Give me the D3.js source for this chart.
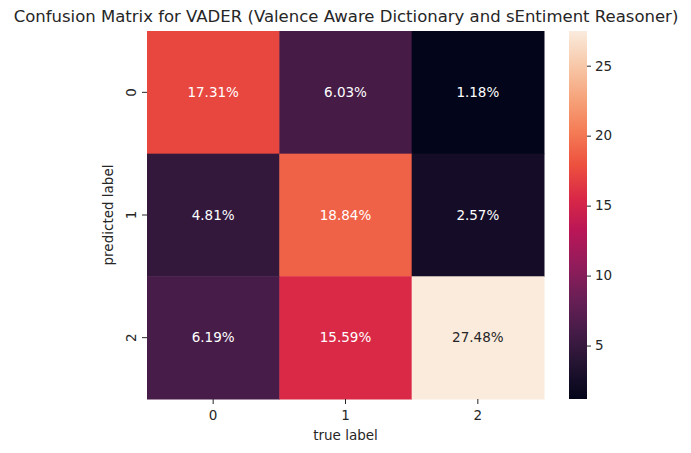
<!DOCTYPE html>
<html>
<head>
<meta charset="utf-8">
<script src="https://cdn.jsdelivr.net/npm/d3@7"></script>
<style>
  body { margin: 0; background: #fff; }
  text { font-family: "DejaVu Sans", sans-serif; fill: #262626; }
</style>
</head>
<body>
<svg id="chart" width="691" height="453"></svg>
<script>
var trueLabels = ["0", "1", "2"];
var predLabels = ["0", "1", "2"];
// rows = predicted label, columns = true label (percent)
var row0 = [17.31, 6.03, 1.18];
var row1 = [4.81, 18.84, 2.57];
var row2 = [6.19, 15.59, 27.48];
var cbTicks = [5, 10, 15, 20, 25];
var rocket = ["#03051a", "#221331", "#451c47", "#691f55", "#921c5b", "#b91657",
              "#d92847", "#ed513e", "#f47c56", "#f6a47b", "#f7c9aa", "#faebdd"];

var rows = [row0, row1, row2];
var cells = [];
rows.forEach(function (r, i) {
  r.forEach(function (v, j) { cells.push({ row: predLabels[i], col: trueLabels[j], v: v }); });
});
var vmin = d3.min(cells, function (d) { return d.v; });
var vmax = d3.max(cells, function (d) { return d.v; });

var color = d3.scaleLinear()
  .domain(rocket.map(function (c, i) { return vmin + (vmax - vmin) * i / (rocket.length - 1); }))
  .range(rocket);

var svg = d3.select("#chart");
var mLeft = 147, mRight = 544, mTop = 31, mBottom = 399;
var fs = "13.5px";

var x = d3.scaleBand().domain(trueLabels).range([mLeft, mRight]);
var y = d3.scaleBand().domain(predLabels).range([mTop, mBottom]);

svg.selectAll("rect.cell").data(cells).enter().append("rect")
  .attr("x", function (d) { return x(d.col); })
  .attr("y", function (d) { return y(d.row); })
  .attr("width", x.bandwidth() + 0.5)
  .attr("height", y.bandwidth() + 0.5)
  .attr("fill", function (d) { return color(d.v); });

svg.selectAll("text.val").data(cells).enter().append("text")
  .attr("x", function (d) { return x(d.col) + x.bandwidth() / 2; })
  .attr("y", function (d) { return y(d.row) + y.bandwidth() / 2; })
  .attr("text-anchor", "middle").attr("dy", "0.35em")
  .style("font-size", fs)
  .style("fill", function (d) { return d.v > 20 ? "#262626" : "#ffffff"; })
  .text(function (d) { return d.v.toFixed(2) + "%"; });

// axes
var xAxis = svg.append("g").attr("transform", "translate(0," + mBottom + ")")
  .call(d3.axisBottom(x).tickSize(5).tickPadding(6));
var yAxis = svg.append("g").attr("transform", "translate(" + mLeft + ",0)")
  .call(d3.axisLeft(y).tickSize(5).tickPadding(6));
[xAxis, yAxis].forEach(function (g) {
  g.select(".domain").remove();
  g.selectAll("line").attr("stroke", "#262626");
  g.selectAll("text").style("font-size", fs).style("fill", "#262626")
    .style("font-family", "DejaVu Sans, sans-serif");
});
yAxis.selectAll(".tick text")
  .attr("text-anchor", "middle")
  .attr("x", -16).attr("dy", "0.35em")
  .attr("transform", "rotate(-90,-16,0)");

svg.append("text").attr("x", (mLeft + mRight) / 2).attr("y", 440)
  .attr("text-anchor", "middle").style("font-size", fs).text("true label");
svg.append("text").attr("transform", "translate(113," + ((mTop + mBottom) / 2) + ") rotate(-90)")
  .attr("text-anchor", "middle").style("font-size", fs).text("predicted label");
svg.append("text").attr("x", 346).attr("y", 22)
  .attr("text-anchor", "middle").style("font-size", "16.5px")
  .text("Confusion Matrix for VADER (Valence Aware Dictionary and sEntiment Reasoner)");

// colorbar
var cbX = 569, cbW = 18;
var cy = d3.scaleLinear().domain([vmin, vmax]).range([mBottom, mTop]);
var defs = svg.append("defs");
var grad = defs.append("linearGradient").attr("id", "cbg")
  .attr("x1", 0).attr("y1", 1).attr("x2", 0).attr("y2", 0);
rocket.forEach(function (c, i) {
  grad.append("stop").attr("offset", i / (rocket.length - 1)).attr("stop-color", c);
});
svg.append("rect").attr("x", cbX).attr("y", mTop).attr("width", cbW)
  .attr("height", mBottom - mTop).attr("fill", "url(#cbg)");
var cbAxis = svg.append("g").attr("transform", "translate(" + (cbX + cbW) + ",0)")
  .call(d3.axisRight(cy).tickValues(cbTicks).tickSize(4).tickPadding(4));
cbAxis.select(".domain").remove();
cbAxis.selectAll("line").attr("stroke", "#262626");
cbAxis.selectAll("text").style("font-size", fs).style("fill", "#262626")
  .style("font-family", "DejaVu Sans, sans-serif");
</script>
</body>
</html>
